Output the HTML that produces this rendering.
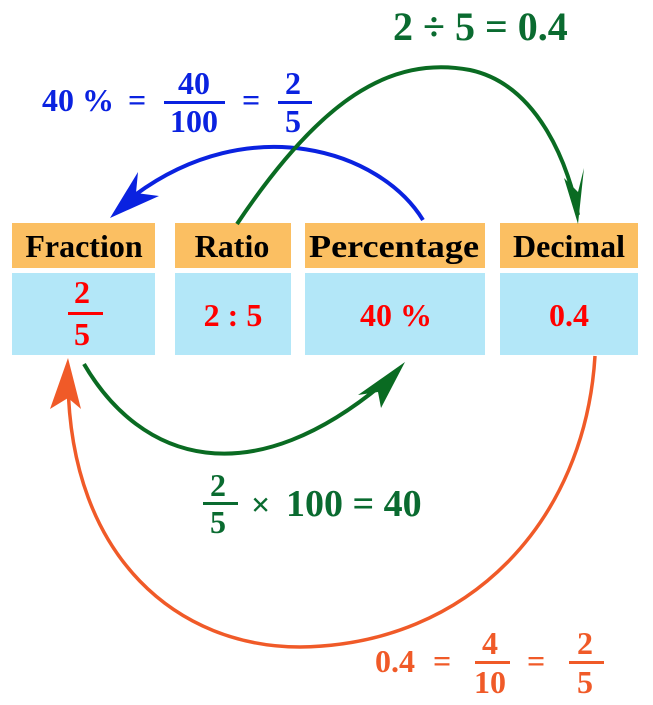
<!DOCTYPE html>
<html><head><meta charset="utf-8"><style>
html,body{margin:0;padding:0;background:#fff;width:653px;height:705px;overflow:hidden}
svg{display:block;font-family:"Liberation Serif","Times New Roman","DejaVu Serif",serif;font-weight:bold}
svg text{font-family:"Liberation Serif","Times New Roman","DejaVu Serif",serif;font-weight:bold}
</style></head><body>
<svg width="653" height="705" viewBox="0 0 653 705" xmlns="http://www.w3.org/2000/svg" font-family="Liberation Serif, serif" font-weight="bold">
<g fill="#fbbf62">
<rect x="12" y="223" width="143" height="45"/>
<rect x="175" y="223" width="116" height="45"/>
<rect x="305" y="223" width="180" height="45"/>
<rect x="500" y="223" width="138" height="45"/>
</g>
<g fill="#b3e7f8">
<rect x="12" y="273" width="143" height="82"/>
<rect x="175" y="273" width="116" height="82"/>
<rect x="305" y="273" width="180" height="82"/>
<rect x="500" y="273" width="138" height="82"/>
</g>
<g font-size="32" fill="#000" text-anchor="middle">
<text x="84" y="257">Fraction</text>
<text x="232" y="257">Ratio</text>
<text x="394" y="257" textLength="170" lengthAdjust="spacingAndGlyphs">Percentage</text>
<text x="569" y="257">Decimal</text>
</g>
<g font-size="32" fill="#f00" text-anchor="middle">
<text x="82" y="303">2</text>
<rect x="68" y="312" width="35" height="3" fill="#f00"/>
<text x="82" y="345">5</text>
<text x="233" y="326">2 : 5</text>
<text x="396" y="326">40 %</text>
<text x="569" y="326">0.4</text>
</g>
<path d="M423 220 C380 150 250 110 135 195" fill="none" stroke="#0a22e0" stroke-width="4"/>
<polygon points="110,218 138,172 136,193 159,196" fill="#0a22e0"/>
<path d="M237 224 C320 100 390 55 470 70 C540 85 570 170 578 215" fill="none" stroke="#0a6b22" stroke-width="4"/>
<polygon points="578,224 564,178 578,192 584,168" fill="#0a6b22"/>
<path d="M84 364 C140 460 250 500 392 376" fill="none" stroke="#0a6b22" stroke-width="4"/>
<polygon points="405,362 381,408 378,392 358,395" fill="#0a6b22"/>
<path d="M595 356 C585 520 470 645 300 647 C180 647 70 560 68 380" fill="none" stroke="#f05a28" stroke-width="3.5"/>
<polygon points="68,358 81,409 68,398 50,409" fill="#f05a28"/>
<text x="393" y="40" font-size="40" fill="#0a6b30">2 ÷ 5 = 0.4</text>
<g fill="#0a22e0" font-size="32">
<text x="42" y="111">40 %</text>
<text x="128" y="111">=</text>
<text x="194" y="94" text-anchor="middle">40</text>
<rect x="164" y="101" width="61" height="3"/>
<text x="194" y="132" text-anchor="middle">100</text>
<text x="242" y="111">=</text>
<text x="293" y="94" text-anchor="middle">2</text>
<rect x="278" y="101" width="34" height="3"/>
<text x="293" y="132" text-anchor="middle">5</text>
</g>
<g fill="#0a6b30" font-size="38">
<text x="218" y="496" text-anchor="middle" font-size="32">2</text>
<rect x="203" y="502" width="35" height="3"/>
<text x="218" y="533" text-anchor="middle" font-size="32">5</text>
<text x="251" y="516" font-weight="normal" font-size="34">×</text>
<text x="286" y="516">100 = 40</text>
</g>
<g fill="#f05a28" font-size="32">
<text x="375" y="672">0.4</text>
<text x="433" y="672">=</text>
<text x="490" y="654" text-anchor="middle">4</text>
<rect x="475" y="661" width="35" height="3"/>
<text x="490" y="693" text-anchor="middle">10</text>
<text x="527" y="672">=</text>
<text x="585" y="654" text-anchor="middle">2</text>
<rect x="569" y="661" width="35" height="3"/>
<text x="585" y="693" text-anchor="middle">5</text>
</g>
</svg>
</body></html>
